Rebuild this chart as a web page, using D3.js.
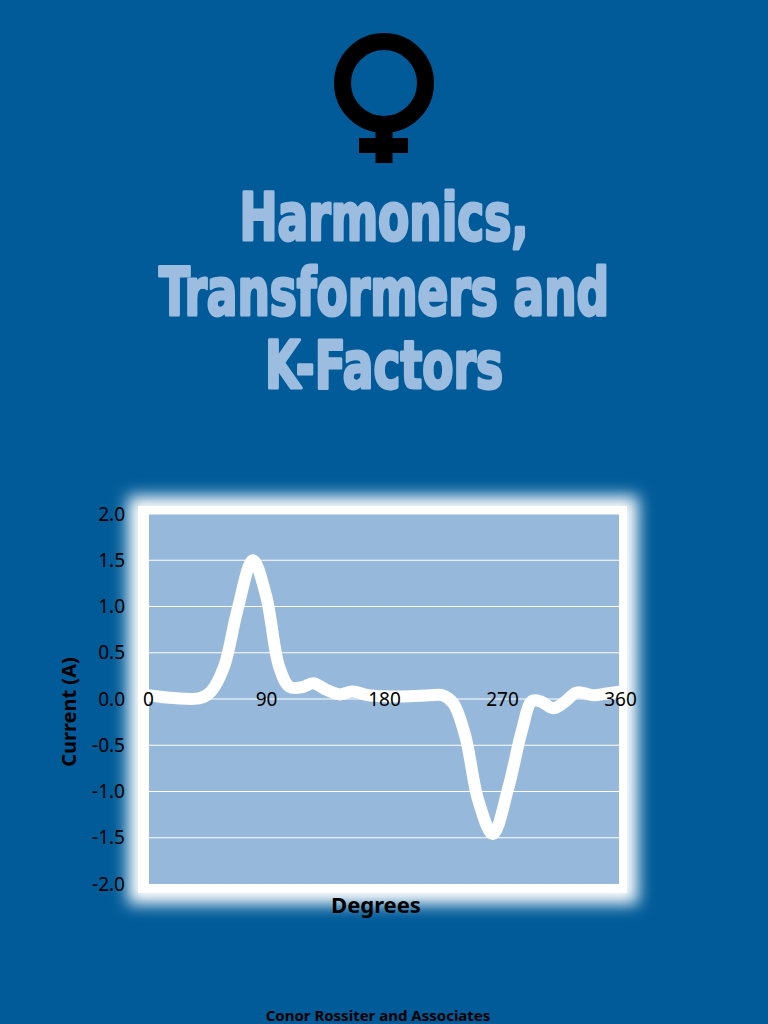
<!DOCTYPE html>
<html>
<head>
<meta charset="utf-8">
<script src="https://cdn.jsdelivr.net/npm/d3@7"></script>
<style>
html,body{margin:0;padding:0;background:#005b98;}
svg{display:block;}
</style>
</head>
<body>
<svg id="chart" width="768" height="1024"></svg>
<script>
// ---- data ----
const titleLines = ["Harmonics,", "Transformers and", "K-Factors"];
const degrees = [0, 20, 40, 48, 58, 68, 80, 90, 100, 108, 118, 126, 136, 146, 156, 168, 180, 200, 215, 225, 233, 242, 252, 263, 275, 285, 293, 300, 309, 318, 327, 340, 350, 360];
const current = [0.04, 0.01, 0.01, 0.08, 0.35, 0.95, 1.5, 1.12, 0.35, 0.13, 0.13, 0.17, 0.1, 0.05, 0.08, 0.04, 0.03, 0.03, 0.04, 0.04, -0.05, -0.4, -1.1, -1.46, -0.95, -0.35, -0.02, -0.03, -0.1, -0.03, 0.07, 0.04, 0.06, 0.08];
const xTicks = [0, 90, 180, 270, 360];
const yTicks = [-2.0, -1.5, -1.0, -0.5, 0.0, 0.5, 1.0, 1.5, 2.0];
const xTitle = "Degrees";
const yTitle = "Current (A)";
const footer = "Conor Rossiter and Associates";

const svg = d3.select("#chart");
const W = 768, H = 1024;

svg.append("rect").attr("width", W).attr("height", H).attr("fill", "#005b98");

// ---- Venus symbol ----
const sym = svg.append("g").attr("fill", "#000");
sym.append("circle").attr("cx", 384).attr("cy", 83).attr("r", 41.5)
  .attr("fill", "none").attr("stroke", "#000").attr("stroke-width", 17);
sym.append("rect").attr("x", 375.5).attr("y", 128).attr("width", 17).attr("height", 35);
sym.append("rect").attr("x", 359).attr("y", 138).attr("width", 49).attr("height", 15);

// ---- title ----
const titleBase = [240, 315, 388];
const titleWidth = [289, 450, 238];
svg.append("g").selectAll("text").data(titleLines).join("text")
  .attr("x", 384).attr("y", (d, i) => titleBase[i])
  .attr("text-anchor", "middle")
  .attr("textLength", (d, i) => titleWidth[i])
  .attr("lengthAdjust", "spacingAndGlyphs")
  .attr("font-family", "'Liberation Sans Narrow','DejaVu Sans Condensed','Liberation Sans',sans-serif")
  .attr("font-weight", "bold")
  .attr("font-size", 66)
  .attr("fill", "#9dbde0")
  .attr("stroke", "#9dbde0").attr("stroke-width", 3).attr("stroke-linejoin", "round")
  .text(d => d);

// ---- chart ----
const x = d3.scaleLinear().domain([0, 360]).range([148, 620]);
const y = d3.scaleLinear().domain([-2, 2]).range([884, 514]);

const defs = svg.append("defs");
const f = defs.append("filter").attr("id", "glow")
  .attr("x", "-20%").attr("y", "-20%").attr("width", "140%").attr("height", "140%");
f.append("feGaussianBlur").attr("stdDeviation", 8);

const [x0, x1] = x.range();
const [yb, yt] = y.range();
// glow frame
svg.append("rect").attr("x", x0 - 20).attr("y", yt - 18)
  .attr("width", x1 - x0 + 38).attr("height", yb - yt + 38)
  .attr("fill", "#ffffff").attr("filter", "url(#glow)");
svg.append("rect").attr("x", x0 - 10).attr("y", yt - 8)
  .attr("width", x1 - x0 + 17).attr("height", yb - yt + 17)
  .attr("fill", "#ffffff");
// plot bg
svg.append("rect").attr("x", x0 + 1).attr("y", yt)
  .attr("width", x1 - x0 - 2).attr("height", yb - yt)
  .attr("fill", "#96b9db");

// gridlines
svg.append("g").selectAll("line").data(yTicks.filter(d => d !== -2)).join("line")
  .attr("x1", x0).attr("x2", x1 - 1)
  .attr("y1", d => y(d)).attr("y2", d => y(d))
  .attr("stroke", "#ffffff").attr("stroke-width", 1.2);

// y axis
const yAxis = svg.append("g").attr("transform", `translate(${x0 - 1},0)`)
  .call(d3.axisLeft(y).tickValues(yTicks).tickFormat(d => d.toFixed(1)).tickSize(7).tickPadding(15));
yAxis.select(".domain").attr("stroke", "#ffffff").attr("stroke-width", 3);
yAxis.selectAll(".tick line").attr("stroke", "#ffffff").attr("stroke-width", 2);
yAxis.selectAll(".tick text")
  .attr("font-family", "'Noto Sans','Open Sans',sans-serif")
  .attr("font-size", 19).attr("fill", "#000");

// line
const data = degrees.map((d, i) => ({ d, v: current[i] }));
const line = d3.line().x(p => x(p.d)).y(p => y(p.v)).curve(d3.curveCatmullRom.alpha(0.5));
svg.append("path").datum(data).attr("d", line)
  .attr("fill", "none").attr("stroke", "#ffffff").attr("stroke-width", 12)
  .attr("stroke-linejoin", "round").attr("stroke-linecap", "round");

// x axis labels along zero line (on top of the line)
const xAxis = svg.append("g").attr("transform", `translate(0,${y(0)})`)
  .call(d3.axisBottom(x).tickValues(xTicks).tickSize(0).tickPadding(0));
xAxis.select(".domain").remove();
xAxis.selectAll(".tick text")
  .attr("y", 0).attr("dy", "0.36em")
  .attr("font-family", "'Noto Sans','Open Sans',sans-serif")
  .attr("font-size", 19).attr("fill", "#000");

// axis titles
svg.append("text").attr("x", 376).attr("y", 913).attr("text-anchor", "middle")
  .attr("font-family", "'Noto Sans','Open Sans',sans-serif").attr("font-weight", "bold")
  .attr("font-size", 22).attr("fill", "#000").text(xTitle);
svg.append("text").attr("transform", "translate(76,712) rotate(-90)").attr("text-anchor", "middle")
  .attr("font-family", "'Noto Sans','Open Sans',sans-serif").attr("font-weight", "bold")
  .attr("font-size", 20).attr("fill", "#000").text(yTitle);

// footer
svg.append("text").attr("x", 378).attr("y", 1021).attr("text-anchor", "middle")
  .attr("font-family", "'Noto Sans','Open Sans',sans-serif").attr("font-weight", "bold")
  .attr("font-size", 15).attr("fill", "#000").text(footer);
</script>
</body>
</html>
